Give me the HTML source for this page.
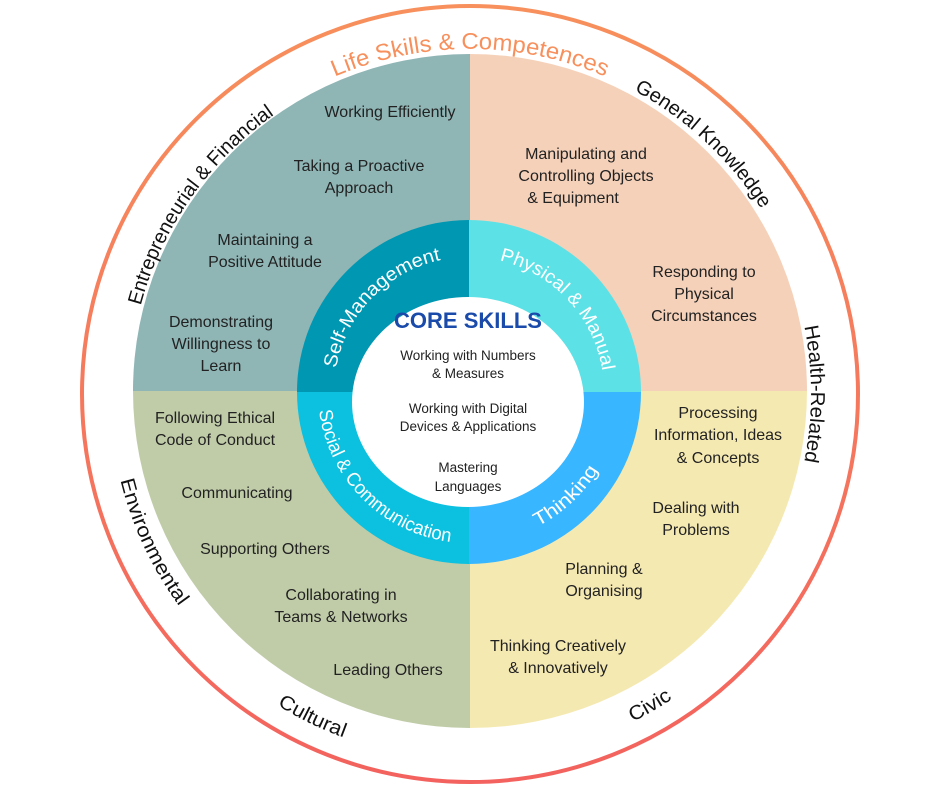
<!DOCTYPE html>
<html><head><meta charset="utf-8"><style>
html,body{margin:0;padding:0;background:#fff;}
svg{display:block;}
text{font-family:"Liberation Sans",sans-serif;}
.q{font-size:16px;fill:#222;text-anchor:middle;}
.c{font-size:13.5px;fill:#222;text-anchor:middle;}
.o{font-size:20px;fill:#111;}
.r{font-size:19px;fill:#fff;}
</style></head><body>
<svg width="940" height="788" viewBox="0 0 940 788" xmlns="http://www.w3.org/2000/svg">
<defs>
<linearGradient id="g" x1="0" y1="0" x2="0" y2="1">
<stop offset="0" stop-color="#f7905c"/><stop offset="1" stop-color="#f3625e"/>
</linearGradient>
<path id="ocw345" d="M125,394 A345,345 0 1 1 815,394 A345,345 0 1 1 125,394"/>
<path id="ocw341" d="M129,394 A341,341 0 1 1 811,394 A341,341 0 1 1 129,394"/>
<path id="occw360" d="M110,394 A360,360 0 1 0 830,394 A360,360 0 1 0 110,394"/>
<path id="occw366" d="M104,394 A366,366 0 1 0 836,394 A366,366 0 1 0 104,394"/>
<path id="rcw" d="M334,392 A135,135 0 1 1 604,392 A135,135 0 1 1 334,392"/>
<path id="rccw" d="M318,392 A151,151 0 1 0 620,392 A151,151 0 1 0 318,392"/>
</defs>
<circle cx="470" cy="394" r="388" fill="none" stroke="url(#g)" stroke-width="4"/>
<path d="M470,391 L470,54 A337,337 0 0 0 133,391 Z" fill="#8fb5b5"/>
<path d="M470,391 L470,54 A337,337 0 0 1 807,391 Z" fill="#f5d1b9"/>
<path d="M470,391 L133,391 A337,337 0 0 0 470,728 Z" fill="#c0cca8"/>
<path d="M470,391 L807,391 A337,337 0 0 1 470,728 Z" fill="#f5e9b2"/>
<path d="M469,392 L469,220 A172,172 0 0 0 297,392 Z" fill="#0097b2"/>
<path d="M469,392 L469,220 A172,172 0 0 1 641,392 Z" fill="#5ce1e6"/>
<path d="M469,392 L297,392 A172,172 0 0 0 469,564 Z" fill="#0cc0df"/>
<path d="M469,392 L641,392 A172,172 0 0 1 469,564 Z" fill="#38b6ff"/>
<ellipse cx="468" cy="402" rx="116" ry="105" fill="#fff"/>

<!-- outer labels -->
<text class="o" style="fill:#f7905c;font-size:23px" transform="rotate(-90 470 394)"><textPath href="#ocw345" startOffset="50%" text-anchor="middle" textLength="278" lengthAdjust="spacingAndGlyphs">Life Skills &amp; Competences</textPath></text>
<text class="o" transform="rotate(-145 470 394)"><textPath href="#ocw341" startOffset="50%" text-anchor="middle" textLength="238" lengthAdjust="spacingAndGlyphs">Entrepreneurial &amp; Financial</textPath></text>
<text class="o" transform="rotate(-47 470 394)"><textPath href="#ocw345" startOffset="50%" text-anchor="middle" textLength="176" lengthAdjust="spacingAndGlyphs">General Knowledge</textPath></text>
<text class="o" transform="rotate(0 470 394)"><textPath href="#ocw341" startOffset="50%" text-anchor="middle" textLength="136" lengthAdjust="spacingAndGlyphs">Health-Related</textPath></text>
<text class="o" transform="rotate(155 470 394)"><textPath href="#occw360" startOffset="50%" text-anchor="middle" textLength="140" lengthAdjust="spacingAndGlyphs">Environmental</textPath></text>
<text class="o" transform="rotate(116 470 394)"><textPath href="#occw366" startOffset="50%" text-anchor="middle" textLength="74" lengthAdjust="spacingAndGlyphs">Cultural</textPath></text>
<text class="o" transform="rotate(60 470 394)"><textPath href="#occw366" startOffset="50%" text-anchor="middle" textLength="46" lengthAdjust="spacingAndGlyphs">Civic</textPath></text>

<!-- ring labels -->
<text class="r" transform="rotate(-136 469 392)"><textPath href="#rcw" startOffset="50%" text-anchor="middle" textLength="160" lengthAdjust="spacingAndGlyphs">Self-Management</textPath></text>
<text class="r" transform="rotate(-43 469 392)"><textPath href="#rcw" startOffset="50%" text-anchor="middle" textLength="160" lengthAdjust="spacingAndGlyphs">Physical &amp; Manual</textPath></text>
<text class="r" transform="rotate(135 469 392)"><textPath href="#rccw" startOffset="50%" text-anchor="middle" textLength="200" lengthAdjust="spacingAndGlyphs">Social &amp; Communication</textPath></text>
<text class="r" transform="rotate(47 469 392)"><textPath href="#rccw" startOffset="50%" text-anchor="middle" textLength="84" lengthAdjust="spacingAndGlyphs">Thinking</textPath></text>

<!-- center -->
<text x="468" y="328" text-anchor="middle" style="font-size:22px;font-weight:bold;fill:#1a4bab">CORE SKILLS</text>
<text class="c" x="468" y="360">Working with Numbers</text>
<text class="c" x="468" y="378">&amp; Measures</text>
<text class="c" x="468" y="413">Working with Digital</text>
<text class="c" x="468" y="431">Devices &amp; Applications</text>
<text class="c" x="468" y="472">Mastering</text>
<text class="c" x="468" y="491">Languages</text>

<!-- TL -->
<text class="q" x="390" y="117">Working Efficiently</text>
<text class="q" x="359" y="171">Taking a Proactive</text>
<text class="q" x="359" y="193">Approach</text>
<text class="q" x="265" y="245">Maintaining a</text>
<text class="q" x="265" y="267">Positive Attitude</text>
<text class="q" x="221" y="327">Demonstrating</text>
<text class="q" x="221" y="349">Willingness to</text>
<text class="q" x="221" y="371">Learn</text>
<!-- TR -->
<text class="q" x="586" y="159">Manipulating and</text>
<text class="q" x="586" y="181">Controlling Objects</text>
<text class="q" x="573" y="203">&amp; Equipment</text>
<text class="q" x="704" y="277">Responding to</text>
<text class="q" x="704" y="299">Physical</text>
<text class="q" x="704" y="321">Circumstances</text>
<!-- BL -->
<text class="q" x="215" y="423">Following Ethical</text>
<text class="q" x="215" y="445">Code of Conduct</text>
<text class="q" x="237" y="498">Communicating</text>
<text class="q" x="265" y="554">Supporting Others</text>
<text class="q" x="341" y="600">Collaborating in</text>
<text class="q" x="341" y="622">Teams &amp; Networks</text>
<text class="q" x="388" y="675">Leading Others</text>
<!-- BR -->
<text class="q" x="718" y="418">Processing</text>
<text class="q" x="718" y="440">Information, Ideas</text>
<text class="q" x="718" y="463">&amp; Concepts</text>
<text class="q" x="696" y="513">Dealing with</text>
<text class="q" x="696" y="535">Problems</text>
<text class="q" x="604" y="574">Planning &amp;</text>
<text class="q" x="604" y="596">Organising</text>
<text class="q" x="558" y="651">Thinking Creatively</text>
<text class="q" x="558" y="673">&amp; Innovatively</text>
</svg>
</body></html>
